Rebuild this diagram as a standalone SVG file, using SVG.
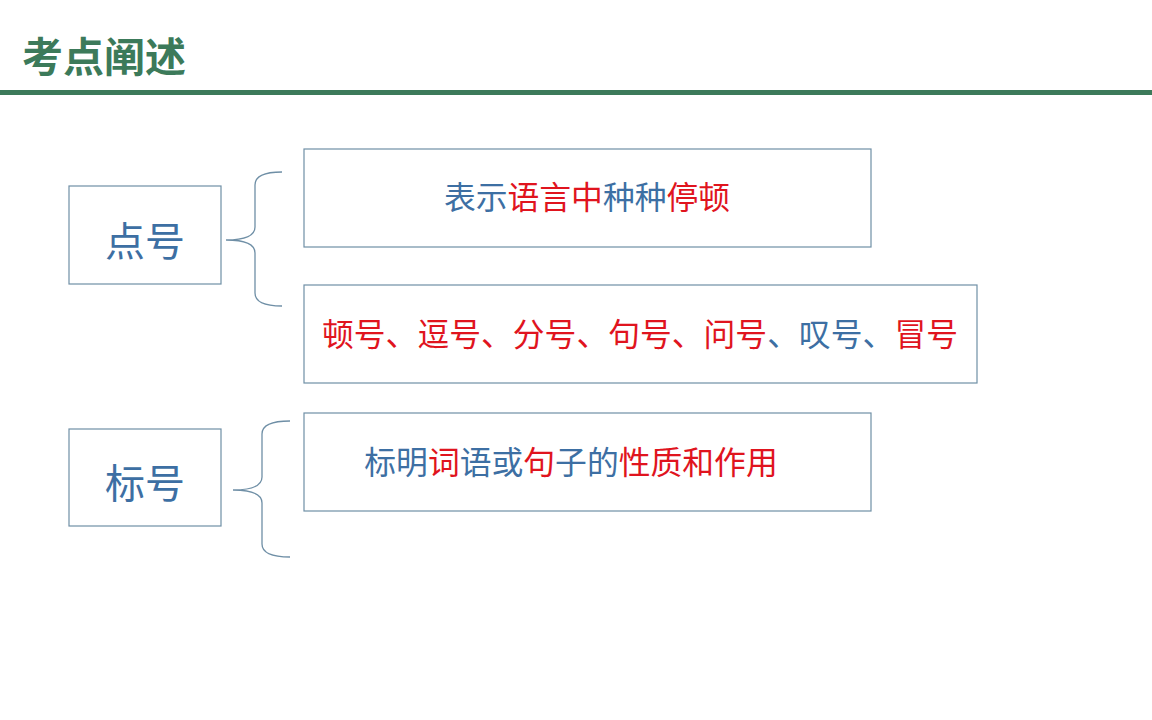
<svg xmlns="http://www.w3.org/2000/svg" width="1152" height="720" viewBox="0 0 1152 720">
<style>
text{font-family:"Noto Sans CJK SC","Liberation Sans",sans-serif}
.box{fill:#fff;stroke:#6f8fa6;stroke-width:1.2}
.b{fill:#3d6fa3}.r{fill:#e0141e}
.br{fill:none;stroke:#6f8fa6;stroke-width:1.3}
</style>
<rect width="1152" height="720" fill="#fff"/>
<text x="22" y="72" font-size="41" font-weight="bold" fill="#3c7a5a">考点阐述</text>
<rect x="0" y="90" width="1152" height="5" fill="#3c7a5a"/>
<g id="n1"><rect class="box" x="69" y="186" width="152" height="98"/><text x="145" y="256" font-size="40" text-anchor="middle" class="b">点号</text></g>
<g id="n2"><rect class="box" x="69" y="429" width="152" height="97"/><text x="145" y="498" font-size="40" text-anchor="middle" class="b">标号</text></g>
<g id="n3"><rect class="box" x="304" y="149" width="567" height="98"/><text x="587" y="209" font-size="31.8" text-anchor="middle"><tspan class="b">表示</tspan><tspan class="r">语言中</tspan><tspan class="b">种种</tspan><tspan class="r">停顿</tspan></text></g>
<g id="n4"><rect class="box" x="304" y="285" width="673" height="98"/><text x="640" y="346" font-size="31.8" text-anchor="middle"><tspan class="r">顿号、逗号、分号、句号、问号</tspan><tspan class="b">、叹号、</tspan><tspan class="r">冒号</tspan></text></g>
<g id="n5"><rect class="box" x="304" y="413" width="567" height="98"/><text x="571" y="474" font-size="31.8" text-anchor="middle"><tspan class="b">标明</tspan><tspan class="r">词</tspan><tspan class="b">语或</tspan><tspan class="r">句</tspan><tspan class="b">子的</tspan><tspan class="r">性质和作用</tspan></text></g>
<g id="connectors">
<path class="br" d="M282,172 Q255,172 255,185 L255,227 Q255,240 226,240 Q255,240 255,253 L255,293 Q255,306 282,306"/>
<path class="br" d="M290,421 Q262,421 262,434 L262,477 Q262,490 233,490 Q262,490 262,503 L262,544 Q262,557 290,557"/>
</g>
</svg>
